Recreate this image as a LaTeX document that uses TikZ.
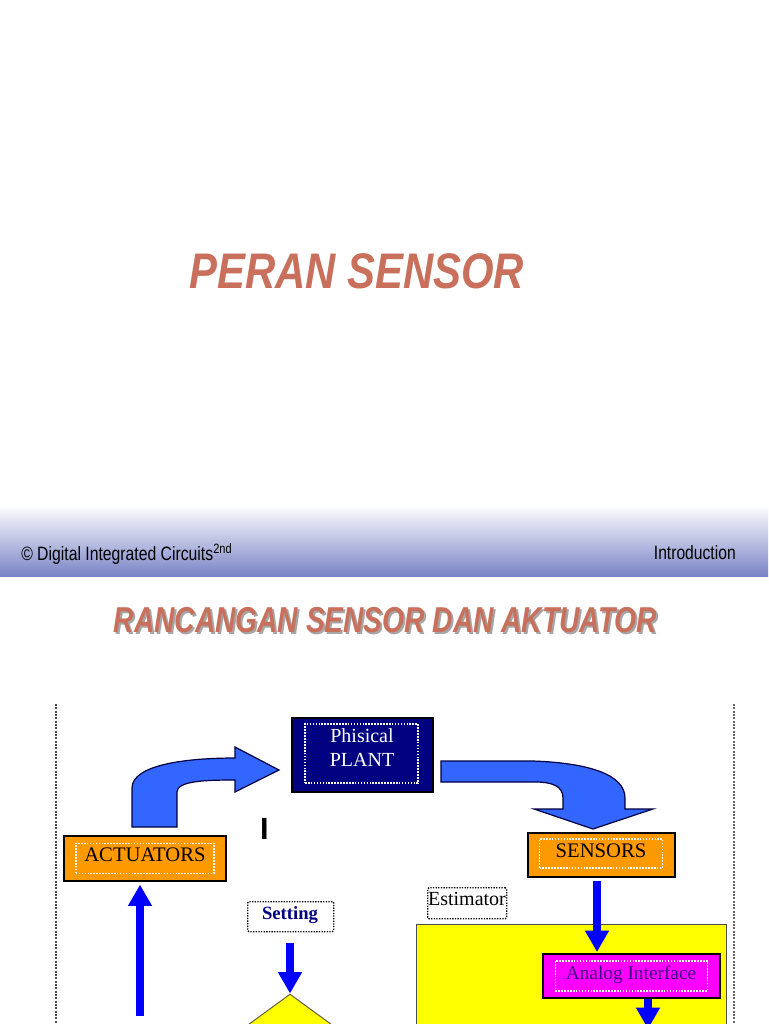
\documentclass[tikz,border=0pt]{standalone}
\usepackage{fontspec}
\setmainfont{Liberation Serif}
\newfontfamily\hd{Liberation Sans}
\usetikzlibrary{shapes.geometric,arrows.meta,positioning}
\definecolor{titlered}{HTML}{C8705C}
\definecolor{bandblue}{HTML}{7A84C6}
\definecolor{plantblue}{HTML}{000080}
\definecolor{orangebox}{HTML}{FF9900}
\definecolor{blockblue}{HTML}{3366FF}
\definecolor{pureyellow}{HTML}{FFFF00}
\definecolor{puremagenta}{HTML}{FF00FF}
\definecolor{pureblue}{HTML}{0000FF}
\definecolor{analogtext}{HTML}{400080}
\def\px{0.75pt}
\tikzset{
  outerbox/.style={draw=black,line width=1.6*\px,inner sep=0pt,anchor=north west},
  innerbox/.style={draw=white,line width=1.6*\px,densely dotted,inner sep=0pt,anchor=center},
  notebox/.style={draw=black,line width=1.3*\px,densely dotted,inner sep=0pt,anchor=north west,rounded corners=1pt},
  boxlabel/.style={inner sep=0pt,anchor=base,font=\fontsize{15.5}{17}\selectfont},
  thinblue/.style={draw=pureblue,line width=8*\px,-{Triangle[width=17pt,length=16pt]}},
  blockarrow/.style={fill=blockblue,draw=black!75!blue,line width=1.2*\px,line join=miter},
}
\begin{document}
\begin{tikzpicture}[x=\px,y=-\px]
\useasboundingbox (0,0) rectangle (768,1024);
\clip (0,0) rectangle (768,1024);
\fill[white] (0,0) rectangle (768,1024);
% footer band
\shade[top color=white,bottom color=bandblue,draw=none] (0,505) rectangle (768,576);
% titles
\node[anchor=base west,inner sep=0pt,text=titlered,font=\hd\bfseries\itshape\fontsize{37.5}{40}\selectfont] (title1) at (189,288) {\scalebox{0.837}[1]{PERAN SENSOR}};
\node[anchor=base west,inner sep=0pt,text=black!35,font=\hd\bfseries\itshape\fontsize{27}{30}\selectfont] (title2s) at (115.5,634.5) {\scalebox{0.782}[1]{RANCANGAN SENSOR DAN AKTUATOR}};
\node[anchor=base west,inner sep=0pt,text=titlered,font=\hd\bfseries\itshape\fontsize{27}{30}\selectfont] (title2) at (113.5,632.5) {\scalebox{0.782}[1]{RANCANGAN SENSOR DAN AKTUATOR}};
\node[anchor=base west,inner sep=0pt,font=\hd\fontsize{14.5}{16}\selectfont] (foot1) at (21,560) {\scalebox{0.815}[1]{© Digital Integrated Circuits\textsuperscript{2nd}}};
\node[anchor=base east,inner sep=0pt,font=\hd\fontsize{14.5}{16}\selectfont] (foot2) at (736,559) {\scalebox{0.81}[1]{Introduction}};
% side dotted lines
\coordinate (lt) at (55.5,704); \coordinate (lb) at (55.5,1024);
\coordinate (rt) at (734,704); \coordinate (rb) at (734,1024);
\draw[line width=2*\px,black!70,densely dotted] (lt) -- (lb);
\draw[line width=2*\px,black!60,densely dotted] (rt) -- (rb);
% yellow estimator area
\node[draw=black!70,line width=1*\px,fill=pureyellow,inner sep=0pt,anchor=north west,minimum width=310*\px,minimum height=140*\px] (est) at (416,924) {};
% diamond
\node[diamond,draw=black!70!yellow,line width=1*\px,fill=pureyellow,inner sep=0pt,minimum width=164*\px,minimum height=120*\px] (dia) at (290,1054) {};
% plant
\node[outerbox,fill=plantblue,minimum width=141*\px,minimum height=74*\px] (plant) at (291,717) {};
\node[innerbox,minimum width=113*\px,minimum height=59*\px] (plantin) at (361.5,753.5) {};
\node[boxlabel,text=white,font=\fontsize{15}{17}\selectfont] (plantl1) at (362,742) {Phisical};
\node[boxlabel,text=white,font=\fontsize{15}{17}\selectfont] (plantl2) at (362,766) {PLANT};
% actuators
\node[outerbox,fill=orangebox,minimum width=162*\px,minimum height=45*\px] (act) at (63,835) {};
\node[innerbox,minimum width=138*\px,minimum height=30*\px] (actin) at (act.center) {};
\node[boxlabel] (actl) at (145,861) {ACTUATORS};
% sensors
\node[outerbox,fill=orangebox,minimum width=147*\px,minimum height=44*\px] (sen) at (527,832) {};
\node[innerbox,minimum width=123*\px,minimum height=29*\px] (senin) at (601,853.5) {};
\node[boxlabel] (senl) at (601,857) {SENSORS};
% analog
\node[outerbox,fill=puremagenta,minimum width=177*\px,minimum height=44*\px] (ana) at (542,953) {};
\node[innerbox,minimum width=152*\px,minimum height=30*\px] (anain) at (ana.center) {};
\node[boxlabel,text=analogtext,font=\fontsize{14.5}{17}\selectfont] (anal) at (631,979) {Analog Interface};
% notes
\node[notebox,minimum width=79*\px,minimum height=31*\px] (esttxt) at (427,887) {};
\node[boxlabel,font=\fontsize{15}{17}\selectfont] (estl) at (467,905) {Estimator};
\node[notebox,minimum width=86*\px,minimum height=30*\px] (set) at (247,901) {};
\node[boxlabel,text=plantblue,font=\bfseries\fontsize{14}{16}\selectfont] (setl) at (290,919) {Setting};
% stray cursor bar
\node[inner sep=0pt,font=\hd\bfseries\fontsize{23}{24}\selectfont] (cursor) at (264.5,828.5) {I};
% thin blue arrows
\coordinate (upstart) at (140,1016);
\draw[thinblue,shorten >=3*\px] (upstart) -- (act.south -| upstart);
\draw[thinblue,shorten <=11*\px,shorten >=0pt] (set.south -| dia.north) -- (dia.north);
\draw[thinblue,shorten <=3*\px,shorten >=1*\px] (sen.south -| 597,0) -- (ana.north -| 597,0);
\coordinate (anaout) at (648,1029);
\draw[thinblue] (ana.south -| anaout) -- (anaout);
% curved block arrows
\draw[blockarrow] (132,827) -- (132,788) .. controls (132,765) and (185,758) .. (235,758)
  -- (235,747) -- (279,770) -- (235,792) -- (235,780) .. controls (205,780) and (177,781) .. (177,792) -- (177,827) -- cycle;
\draw[blockarrow] (441,761) -- (533,761) .. controls (590,763) and (625,775) .. (625,798)
  -- (625,809) -- (653,809) -- (593,829) -- (534,809) -- (563,809) -- (563,798) .. controls (563,786) and (552,782) .. (535,782) -- (441,782) -- cycle;
\end{tikzpicture}
\end{document}
